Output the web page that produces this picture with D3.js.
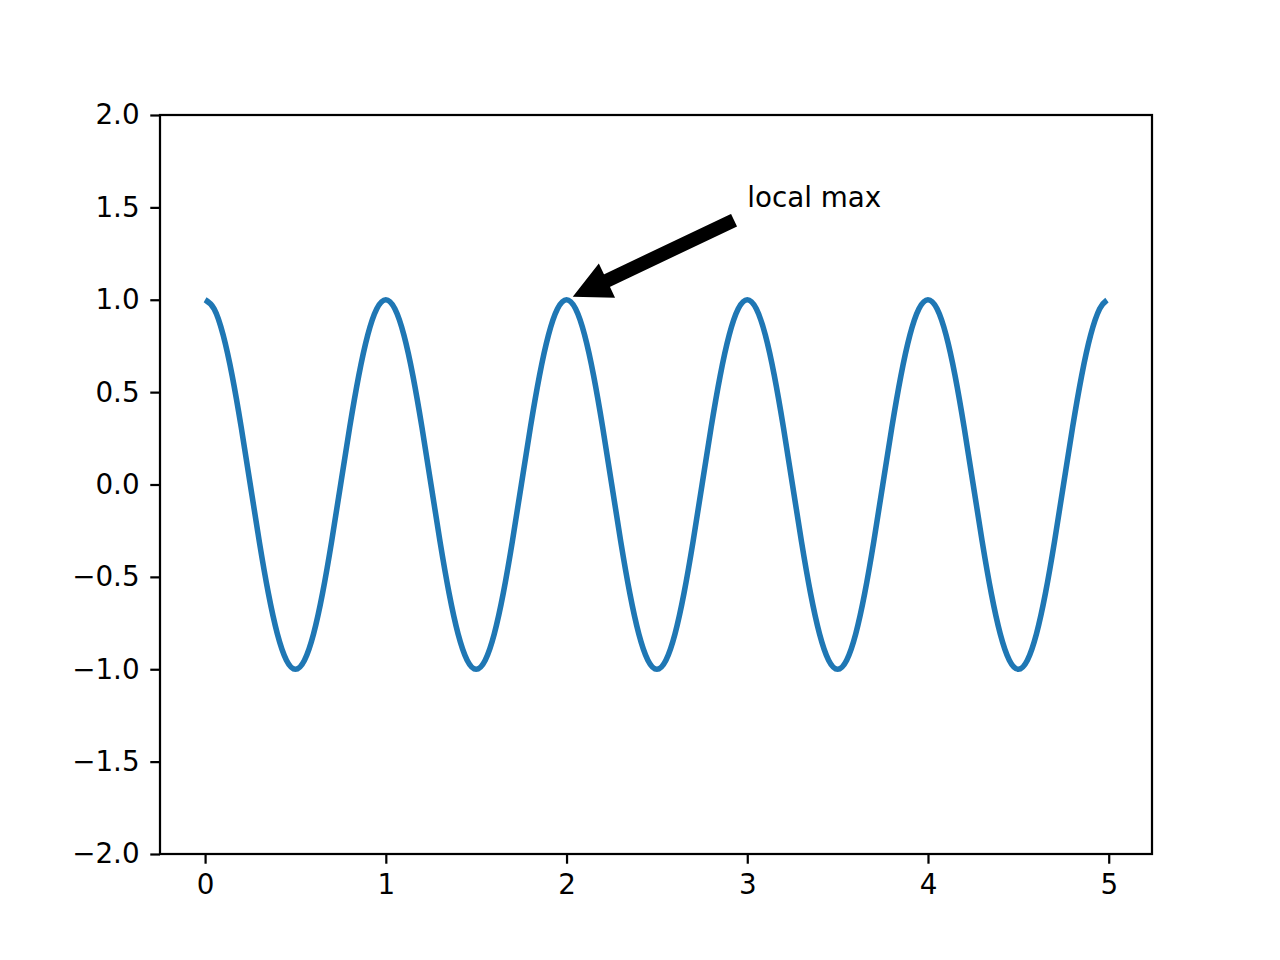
<!DOCTYPE html>
<html>
<head>
<meta charset="utf-8">
<script src="https://cdn.jsdelivr.net/npm/d3@7"></script>
<style>
  body { margin: 0; background: #fff; }
  text { font-family: "DejaVu Sans", sans-serif; }
</style>
</head>
<body>
<div id="container"></div>
<script>
var tValues = [0,0.05,0.1,0.15,0.2,0.25,0.3,0.35,0.4,0.45,
  0.5,0.55,0.6,0.65,0.7,0.75,0.8,0.85,0.9,0.95,
  1,1.05,1.1,1.15,1.2,1.25,1.3,1.35,1.4,1.45,
  1.5,1.55,1.6,1.65,1.7,1.75,1.8,1.85,1.9,1.95,
  2,2.05,2.1,2.15,2.2,2.25,2.3,2.35,2.4,2.45,
  2.5,2.55,2.6,2.65,2.7,2.75,2.8,2.85,2.9,2.95,
  3,3.05,3.1,3.15,3.2,3.25,3.3,3.35,3.4,3.45,
  3.5,3.55,3.6,3.65,3.7,3.75,3.8,3.85,3.9,3.95,
  4,4.05,4.1,4.15,4.2,4.25,4.3,4.35,4.4,4.45,
  4.5,4.55,4.6,4.65,4.7,4.75,4.8,4.85,4.9,4.95,
  4.99];
var sValues = [1,0.951,0.809,0.588,0.309,0,-0.309,-0.588,-0.809,-0.951,
  -1,-0.951,-0.809,-0.588,-0.309,0,0.309,0.588,0.809,0.951,
  1,0.951,0.809,0.588,0.309,0,-0.309,-0.588,-0.809,-0.951,
  -1,-0.951,-0.809,-0.588,-0.309,0,0.309,0.588,0.809,0.951,
  1,0.951,0.809,0.588,0.309,0,-0.309,-0.588,-0.809,-0.951,
  -1,-0.951,-0.809,-0.588,-0.309,0,0.309,0.588,0.809,0.951,
  1,0.951,0.809,0.588,0.309,0,-0.309,-0.588,-0.809,-0.951,
  -1,-0.951,-0.809,-0.588,-0.309,0,0.309,0.588,0.809,0.951,
  1,0.951,0.809,0.588,0.309,0,-0.309,-0.588,-0.809,-0.951,
  -1,-0.951,-0.809,-0.588,-0.309,0,0.309,0.588,0.809,0.951,
  0.998];
var xTicks = [0,1,2,3,4,5];
var yTicks = [-2,-1.5,-1,-0.5,0,0.5,1,1.5,2];
var annotPoint = [2, 1];
var annotText = [3, 1.5];
var annotLabel = 'local max';

var width = 1280;
var height = 960;
var margin = {left: 160, right: 128, top: 115, bottom: 106};
var pt = 200 / 72;
var fontSize = 10 * pt;

var svg = d3.select('#container').append('svg')
    .attr('width', width).attr('height', height);

var x = d3.scaleLinear()
    .domain([-0.2495, 5.2395])
    .range([margin.left, width - margin.right]);
var y = d3.scaleLinear()
    .domain([-2, 2])
    .range([height - margin.bottom, margin.top]);

// curve
var data = tValues.map(function(t, i){ return [t, sValues[i]]; });
var line = d3.line()
    .x(function(d){ return x(d[0]); })
    .y(function(d){ return y(d[1]); })
    .curve(d3.curveNatural);
svg.append('path')
    .datum(data)
    .attr('d', line)
    .attr('fill', 'none')
    .attr('stroke', '#1f77b4')
    .attr('stroke-width', 2 * pt);

// axes
var xAxis = d3.axisBottom(x).tickValues(xTicks).tickFormat(d3.format('d'))
    .tickSize(3.5 * pt).tickPadding(3.5 * pt + 1);
var yAxis = d3.axisLeft(y).tickValues(yTicks).tickFormat(d3.format('.1f'))
    .tickSize(3.5 * pt).tickPadding(3.5 * pt + 1);

function styleAxis(g){
    g.select('.domain').remove();
    g.selectAll('.tick line').attr('stroke', '#000').attr('stroke-width', 0.8 * pt);
    g.selectAll('.tick text').attr('fill', '#000')
        .style('font-size', fontSize + 'px')
        .style('font-family', '"DejaVu Sans", sans-serif');
}
svg.append('g')
    .attr('transform', 'translate(0,' + (height - margin.bottom) + ')')
    .call(xAxis).call(styleAxis);
svg.append('g')
    .attr('transform', 'translate(' + margin.left + ',0)')
    .call(yAxis).call(styleAxis);

// frame
svg.append('rect')
    .attr('x', margin.left).attr('y', margin.top)
    .attr('width', width - margin.left - margin.right)
    .attr('height', height - margin.top - margin.bottom)
    .attr('fill', 'none')
    .attr('stroke', '#000')
    .attr('stroke-width', 0.8 * pt);

// annotation
var tx = x(annotText[0]), ty = y(annotText[1]);
svg.append('text')
    .attr('x', tx).attr('y', ty)
    .style('font-size', fontSize + 'px')
    .text(annotLabel);
var descent = 0.236 * fontSize;
var px = x(annotPoint[0]), py = y(annotPoint[1]);
var sx = tx, sy = ty + descent;
var dx = px - sx, dy = py - sy;
var len = Math.sqrt(dx * dx + dy * dy);
var ux = dx / len, uy = dy / len;
var nx = -uy, ny = ux;
var a = [sx + ux * 0.08 * len, sy + uy * 0.08 * len];
var b = [px - ux * 0.05 * len, py - uy * 0.05 * len];
var tw = 4 * pt / 2, hw = 12 * pt / 2, hl = 12 * pt;
var neck = [b[0] - ux * hl, b[1] - uy * hl];
var poly = [
    [a[0] + nx * tw, a[1] + ny * tw],
    [neck[0] + nx * tw, neck[1] + ny * tw],
    [neck[0] + nx * hw, neck[1] + ny * hw],
    b,
    [neck[0] - nx * hw, neck[1] - ny * hw],
    [neck[0] - nx * tw, neck[1] - ny * tw],
    [a[0] - nx * tw, a[1] - ny * tw]
];
svg.append('path')
    .attr('d', 'M' + poly.map(function(p){ return p.join(','); }).join('L') + 'Z')
    .attr('fill', '#000')
    .attr('stroke', '#000')
    .attr('stroke-width', pt);
</script>
</body>
</html>
